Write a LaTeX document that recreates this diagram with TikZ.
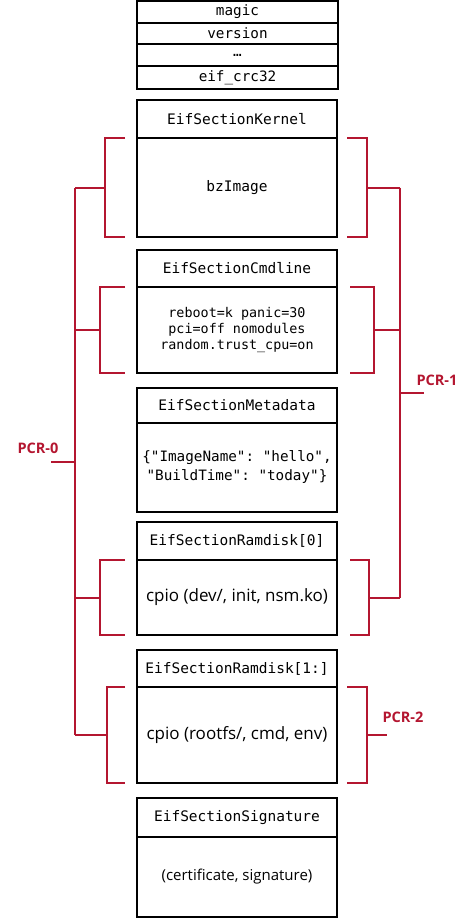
\documentclass[tikz,border=0pt]{standalone}
\usepackage{fontspec}
\setmonofont{DejaVu Sans Mono}
\newfontfamily\osans{Open Sans}
\usetikzlibrary{calc}
\definecolor{pcrred}{RGB}{180,22,48}
\tikzset{
  box/.style={draw=black, line width=1.3pt, minimum width=200pt, inner sep=0pt, outer sep=0pt, anchor=north, align=center},
  hdr/.style={box, font=\fontsize{14.5}{16}\selectfont\ttfamily},
  fld/.style={box, minimum width=201pt, font=\fontsize{14.3}{16}\selectfont\ttfamily},
  cmdbody/.style={box, font=\fontsize{13.4}{16}\selectfont\ttfamily},
  jsonbody/.style={box, font=\fontsize{14.3}{19}\selectfont\ttfamily},
  sbody/.style={box, font=\fontsize{17}{19}\selectfont\osans},
  sigbody/.style={box, font=\fontsize{15}{17}\selectfont\osans},
  pcr/.style={draw=pcrred, line width=2pt},
  pcrlabel/.style={text=pcrred, font=\fontsize{14.5}{16}\selectfont\osans\bfseries, inner sep=0pt}
}
\begin{document}
\begin{tikzpicture}[x=1pt,y=-1pt]
\useasboundingbox (0,0) rectangle (474,924);
% header fields
\node[fld, minimum height=22pt] (magic) at (237.5,1) {magic};
\node[fld, minimum height=21pt] (version) at (237.5,23) {version};
\node[fld, minimum height=22pt] (dots) at (237.5,44) {…};
\node[fld, minimum height=23pt] (crc) at (237.5,66) {eif\_crc32};
% kernel
\node[hdr, minimum height=38pt] (kh) at (237,100) {EifSectionKernel};
\node[hdr, minimum height=99pt] (kb) at (237,138) {bzImage};
% cmdline
\node[hdr, minimum height=37pt] (ch) at (237,250) {EifSectionCmdline};
\node[cmdbody, minimum height=86pt] (cb) at (237,287) {reboot=k panic=30\\pci=off nomodules\\random.trust\_cpu=on};
% metadata
\node[hdr, minimum height=35pt] (mh) at (237,388) {EifSectionMetadata};
\node[jsonbody, minimum height=89pt] (mb) at (237,423) {\{"ImageName": "hello",\\ "BuildTime": "today"\}};
% ramdisk 0
\node[hdr, minimum height=38pt] (r0h) at (237,522) {EifSectionRamdisk[0]};
\node[sbody, minimum height=75pt] (r0b) at (237,560) {cpio (dev/, init, nsm.ko)};
% ramdisk 1
\node[hdr, minimum height=37pt] (r1h) at (237,650) {EifSectionRamdisk[1:]};
\node[sbody, minimum height=96pt] (r1b) at (237,687) {cpio (rootfs/, cmd, env)};
% signature
\node[hdr, minimum height=39pt] (sh) at (237,798) {EifSectionSignature};
\node[sigbody, minimum height=80pt] (sb) at (237,837) {(certificate, signature)};

% ---- left brackets (PCR-0)
\draw[pcr] ([xshift=-12pt]kb.north west) -- (105,138) |- ([xshift=-12pt]kb.south west);
\draw[pcr] ([xshift=-12pt]cb.north west) -- (100,287) |- ([xshift=-12pt]cb.south west);
\draw[pcr] ([xshift=-12pt]r0b.north west) -- (100,560) |- ([xshift=-12pt]r0b.south west);
\draw[pcr] ([xshift=-12pt]r1b.north west) -- (107,687) |- ([xshift=-12pt]r1b.south west);
\coordinate (L0) at (75,187.5);
\coordinate (L3) at (75,735);
\draw[pcr] (L0) -- (L3);
\draw[pcr] (L0) -- (105,187.5);
\draw[pcr] (75,330) -- (100,330);
\draw[pcr] (75,597.5) -- (100,597.5);
\draw[pcr] (L3) -- (107,735);
\coordinate (P0) at (51,462);
\draw[pcr] (P0) -- (75,462);
\node[pcrlabel] (pcr0) at (38,448) {PCR-0};

% ---- right brackets (PCR-1, PCR-2)
\draw[pcr] ([xshift=10pt]kb.north east) -- (367,138) |- ([xshift=10pt]kb.south east);
\draw[pcr] ([xshift=13pt]cb.north east) -- (374,287) |- ([xshift=13pt]cb.south east);
\draw[pcr] ([xshift=13pt]r0b.north east) -- (369,560) |- ([xshift=13pt]r0b.south east);
\draw[pcr] ([xshift=10pt]r1b.north east) -- (367,687) |- ([xshift=10pt]r1b.south east);
\coordinate (R0) at (400,187.5);
\coordinate (R2) at (400,597.5);
\draw[pcr] (R0) -- (R2);
\draw[pcr] (367,187.5) -- (R0);
\draw[pcr] (374,330) -- (400,330);
\draw[pcr] (369,597.5) -- (R2);
\coordinate (P1) at (424,393);
\draw[pcr] (400,393) -- (P1);
\node[pcrlabel] (pcr1) at (437,380) {PCR-1};
\coordinate (P2) at (387,735);
\draw[pcr] (367,735) -- (P2);
\node[pcrlabel] (pcr2) at (403,717) {PCR-2};
\end{tikzpicture}
\end{document}
